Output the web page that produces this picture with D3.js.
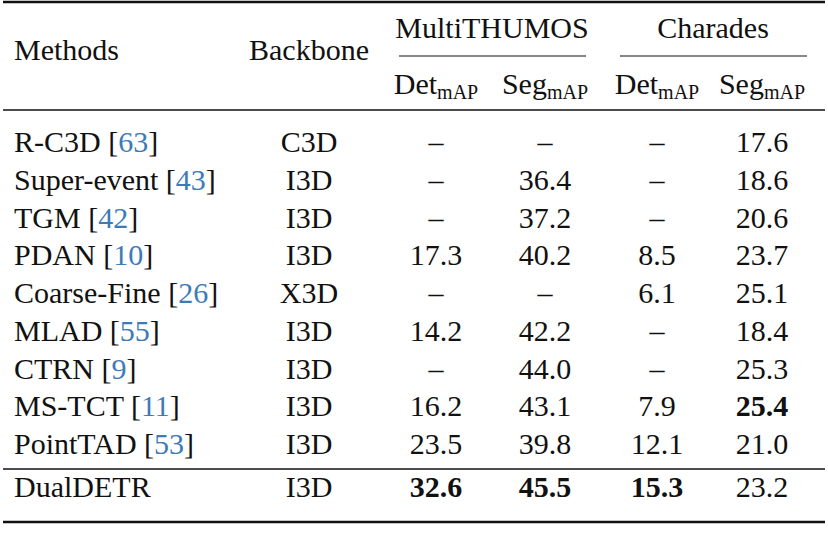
<!DOCTYPE html>
<html><head><meta charset="utf-8">
<script src="https://cdn.jsdelivr.net/npm/d3@7"></script>
<style>body{margin:0;background:#fff}text{font-family:"Liberation Serif","Times New Roman",serif;fill:#111}</style>
</head><body>
<svg id="t" width="828" height="533"></svg>
<script>
var methods = ["R-C3D", "Super-event", "TGM", "PDAN", "Coarse-Fine", "MLAD", "CTRN", "MS-TCT", "PointTAD"]
var refs = ["63", "43", "42", "10", "26", "55", "9", "11", "53"]
var backbones = ["C3D", "I3D", "I3D", "I3D", "X3D", "I3D", "I3D", "I3D", "I3D"]
var mtDet = ["–", "–", "–", "17.3", "–", "14.2", "–", "16.2", "23.5"]
var mtSeg = ["–", "36.4", "37.2", "40.2", "–", "42.2", "44.0", "43.1", "39.8"]
var chDet = ["–", "–", "–", "8.5", "6.1", "–", "–", "7.9", "12.1"]
var chSeg = ["17.6", "18.6", "20.6", "23.7", "25.1", "18.4", "25.3", "25.4", "21.0"]
var ours = ["DualDETR", "I3D", "32.6", "45.5", "15.3", "23.2"]
var oursBold = [false, false, true, true, true, false]
var boldCell = {"7-5": true}

var svg = d3.select("#t")
var fs = 30
var colX = [14, 309, 436, 545, 657, 762]
var y = d3.scaleLinear().domain([0, 8]).range([152, 454])

function rule(y0, x0, x1, w){
	svg.append("line").attr("x1", x0).attr("x2", x1).attr("y1", y0).attr("y2", y0)
		.attr("stroke", "#111").attr("stroke-width", w)
}
rule(2, 3, 825, 2.5)
rule(110, 3, 825, 1.5)
rule(469, 3, 825, 1.5)
rule(522, 3, 825, 2.5)
rule(56, 399, 586, 1.2)
rule(56, 620, 807, 1.2)

svg.append("text").attr("x", colX[0]).attr("y", 60).attr("font-size", fs).text("Methods")
svg.append("text").attr("x", colX[1]).attr("y", 60).attr("font-size", fs).attr("text-anchor", "middle").text("Backbone")
svg.append("text").attr("x", 492).attr("y", 38).attr("font-size", fs).attr("text-anchor", "middle").text("MultiTHUMOS")
svg.append("text").attr("x", 713).attr("y", 38).attr("font-size", fs).attr("text-anchor", "middle").text("Charades")
var sub = ["Det", "Seg", "Det", "Seg"]
for(var i = 0; i < 4; i++){
	var t = svg.append("text").attr("x", colX[i+2]).attr("y", 94).attr("font-size", fs).attr("text-anchor", "middle")
	t.append("tspan").text(sub[i])
	t.append("tspan").attr("font-size", 20).attr("dy", 5).text("mAP")
}

for(var r = 0; r < methods.length; r++){
	var t = svg.append("text").attr("x", colX[0]).attr("y", y(r)).attr("font-size", fs)
	t.append("tspan").text(methods[r] + " [")
	t.append("tspan").style("fill", "#3d7ab8").text(refs[r])
	t.append("tspan").text("]")
	var vals = [backbones[r], mtDet[r], mtSeg[r], chDet[r], chSeg[r]]
	for(var c = 0; c < vals.length; c++){
		svg.append("text").attr("x", colX[c+1]).attr("y", y(r)).attr("font-size", fs)
			.attr("text-anchor", "middle")
			.attr("font-weight", boldCell[r + "-" + (c+1)] ? "bold" : null)
			.text(vals[c])
	}
}
for(var c = 0; c < ours.length; c++){
	svg.append("text").attr("x", colX[c]).attr("y", 497).attr("font-size", fs)
		.attr("text-anchor", c == 0 ? "start" : "middle")
		.attr("font-weight", oursBold[c] ? "bold" : null)
		.text(ours[c])
}
</script>
</body></html>
